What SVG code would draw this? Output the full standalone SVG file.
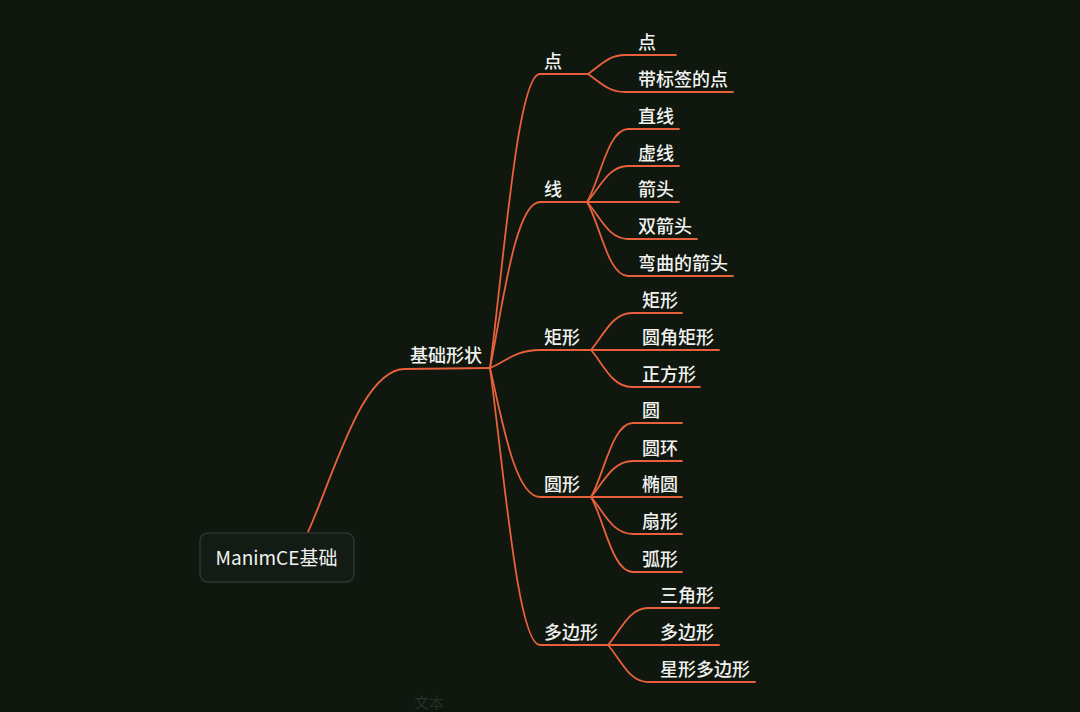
<svg xmlns="http://www.w3.org/2000/svg" width="1080" height="712" viewBox="0 0 1080 712">
<style>
.bg{fill:#0f170f}
.c{fill:none;stroke:#e8613c;stroke-width:1.8;stroke-linecap:round}
.t{font-family:"Noto Sans CJK SC","Noto Sans",sans-serif;font-size:18px;font-weight:500;fill:#f2f2ef}
.root{fill:#131b15;stroke:#2c352e;stroke-width:1.5}
</style>
<rect class="bg" x="0" y="0" width="1080" height="712"/>
<g id="connectors">
<path class="c" d="M308,532 C335,472 362,369 405,369 L490,368"/>
<path class="c" d="M490,368 C505,250 518,74 540,74 L588,74"/>
<path class="c" d="M490,368 C502,310 515,202 540,202 L587,202"/>
<path class="c" d="M490,368 C505,362 515,350 540,350 L591,350"/>
<path class="c" d="M490,368 C502,420 515,497 540,497 L591,497"/>
<path class="c" d="M490,368 C505,480 518,645 540,645 L608,645"/>
<path class="c" d="M588,74 C600,66 608,55 625,55 L676,55"/>
<path class="c" d="M588,74 C600,82 608,92 625,92 L733,92"/>
<path class="c" d="M587,202 C600,180 608,129 628,129 L679,129"/>
<path class="c" d="M587,202 C600,188 608,166 628,166 L679,166"/>
<path class="c" d="M587,202 L679,202"/>
<path class="c" d="M587,202 C600,216 608,239 628,239 L697,239"/>
<path class="c" d="M587,202 C600,224 608,276 628,276 L733,276"/>
<path class="c" d="M591,350 C604,335 612,313 632,313 L682,313"/>
<path class="c" d="M591,350 L719,350"/>
<path class="c" d="M591,350 C604,365 612,387 632,387 L700,387"/>
<path class="c" d="M591,497 C604,475 612,423 633,423 L682,423"/>
<path class="c" d="M591,497 C604,482 612,461 633,461 L682,461"/>
<path class="c" d="M591,497 L682,497"/>
<path class="c" d="M591,497 C604,512 612,534 633,534 L682,534"/>
<path class="c" d="M591,497 C604,519 612,572 633,572 L682,572"/>
<path class="c" d="M608,645 C621,630 629,608 648,608 L719,608"/>
<path class="c" d="M608,645 L719,645"/>
<path class="c" d="M608,645 C621,660 629,682 648,682 L755,682"/>
</g>
<g id="root">
<rect class="root" x="200" y="533" width="154" height="49" rx="8"/>
<text class="t" x="276.5" y="564.5" text-anchor="middle" style="font-size:19px;font-weight:400">ManimCE基础</text>
</g>
<g id="n-shapes"><text class="t" x="410" y="361.5">基础形状</text></g>
<g id="n-point"><text class="t" x="544" y="67.5">点</text></g>
<g id="n-line"><text class="t" x="544" y="195.5">线</text></g>
<g id="n-rect"><text class="t" x="544" y="343.5">矩形</text></g>
<g id="n-circle"><text class="t" x="544" y="490.5">圆形</text></g>
<g id="n-polygon"><text class="t" x="544" y="638.5">多边形</text></g>
<g id="n-dot"><text class="t" x="638" y="48.5">点</text></g>
<g id="n-labeled-dot"><text class="t" x="638" y="85.5">带标签的点</text></g>
<g id="n-straight"><text class="t" x="638" y="122.5">直线</text></g>
<g id="n-dashed"><text class="t" x="638" y="159.5">虚线</text></g>
<g id="n-arrow"><text class="t" x="638" y="195.5">箭头</text></g>
<g id="n-double-arrow"><text class="t" x="638" y="232.5">双箭头</text></g>
<g id="n-curved-arrow"><text class="t" x="638" y="269.5">弯曲的箭头</text></g>
<g id="n-rectangle"><text class="t" x="642" y="306.5">矩形</text></g>
<g id="n-rounded-rect"><text class="t" x="642" y="343.5">圆角矩形</text></g>
<g id="n-square"><text class="t" x="642" y="380.5">正方形</text></g>
<g id="n-circle2"><text class="t" x="642" y="416.5">圆</text></g>
<g id="n-annulus"><text class="t" x="642" y="454.5">圆环</text></g>
<g id="n-ellipse"><text class="t" x="642" y="490.5">椭圆</text></g>
<g id="n-sector"><text class="t" x="642" y="527.5">扇形</text></g>
<g id="n-arc"><text class="t" x="642" y="565.5">弧形</text></g>
<g id="n-triangle"><text class="t" x="660" y="601.5">三角形</text></g>
<g id="n-polygon2"><text class="t" x="660" y="638.5">多边形</text></g>
<g id="n-star"><text class="t" x="660" y="675.5">星形多边形</text></g>
<g id="n-text"><text class="t" x="414" y="708" style="fill:#263026;font-size:15px;font-weight:400">文本</text></g>
</svg>
